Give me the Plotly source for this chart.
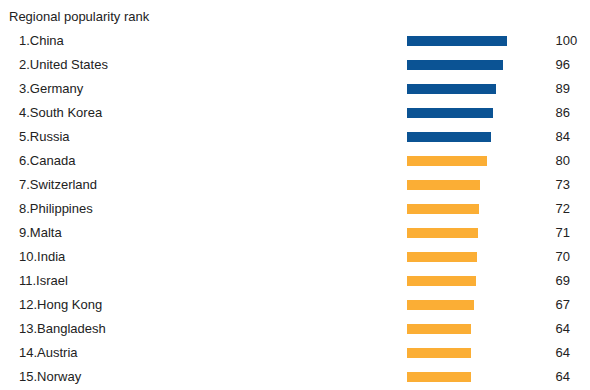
import plotly.graph_objects as go

regions = ["China", "United States", "Germany", "South Korea", "Russia", "Canada",
           "Switzerland", "Philippines", "Malta", "India", "Israel", "Hong Kong",
           "Bangladesh", "Austria", "Norway"]
values = [100, 96, 89, 86, 84, 80, 73, 72, 71, 70, 69, 67, 64, 64, 64]
title_text = "Regional popularity rank"

blue = "#0b5394"
orange = "#fbae35"
colors = [blue if i < 5 else orange for i in range(len(values))]
ypos = list(range(len(values)))
labels = [f"{i+1}.{r}" for i, r in enumerate(regions)]

# page has an 8px body margin; size figure so it fits the 590x390 window
W, H = 582, 382
X0 = 399          # pixel of bar baseline inside figure
Y0 = 33           # pixel of first row centre inside figure
ROW = 24
TXT_DY = 1 / ROW  # text sits 1px lower than bar centre
font = "Liberation Sans, Arial, sans-serif"
txt = "#222222"

ytext = [y + TXT_DY for y in ypos]

fig = go.Figure()
fig.add_trace(go.Bar(x=values, y=ypos, orientation="h", marker_color=colors,
                     marker_line_width=0, width=10/ROW, hoverinfo="skip"))
fig.add_trace(go.Scatter(x=[-388]*len(labels), y=ytext, text=labels, mode="text",
                         textposition="middle right",
                         textfont=dict(family=font, size=13, color=txt), hoverinfo="skip"))
fig.add_trace(go.Scatter(x=[148.5]*len(values), y=ytext, text=[str(v) for v in values], mode="text",
                         textposition="middle right",
                         textfont=dict(family=font, size=13, color=txt), hoverinfo="skip"))

fig.update_layout(
    width=W, height=H, margin=dict(l=0, r=0, t=0, b=0),
    paper_bgcolor="white", plot_bgcolor="white", showlegend=False,
    xaxis=dict(range=[-X0, W-X0], visible=False, fixedrange=True),
    yaxis=dict(range=[(H-Y0)/ROW, -Y0/ROW], visible=False, fixedrange=True),
    annotations=[dict(text=title_text, x=0, y=1, xref="paper", yref="paper",
                      borderpad=0, showarrow=False, xanchor="left", yanchor="top",
                      font=dict(family=font, size=13, color=txt))],
)
fig.write_html("out.html")
